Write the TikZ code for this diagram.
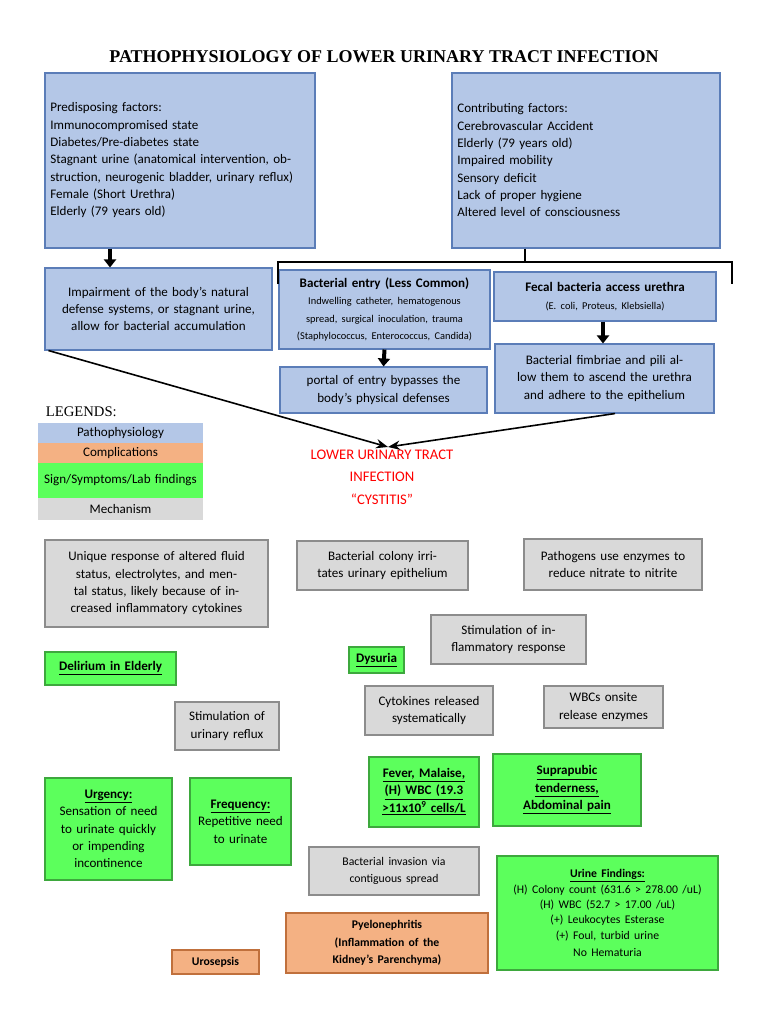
\documentclass[tikz,border=0pt]{standalone}
\usepackage{fontspec}
\setmainfont{Carlito}
\newfontfamily\titlefont{Liberation Serif}
\usetikzlibrary{arrows.meta}
\definecolor{pblue}{HTML}{B4C7E7}
\definecolor{pblueb}{HTML}{5B7DB8}
\definecolor{pgreen}{HTML}{5CFF5C}
\definecolor{pgreenb}{HTML}{3DA83D}
\definecolor{pgray}{HTML}{D9D9D9}
\definecolor{pgrayb}{HTML}{8C8C8C}
\definecolor{porange}{HTML}{F4B183}
\definecolor{porangeb}{HTML}{C0703C}
\newcommand{\bx}[7]{% name, style, x1,y1,x2,y2, text
\node[#2, minimum width={(#5-#3)*0.75pt}, minimum height={(#6-#4)*0.75pt}, text width={(#5-#3)*0.75pt-8pt}] (#1) at ({(#3+#5)/2},{(#4+#6)/2}) {#7};}
\begin{document}
\begin{tikzpicture}[x=0.75pt,y=-0.75pt,
 every node/.style={font=\fontsize{9.8}{13}\selectfont, inner sep=2pt},
 base/.style={draw, line width=0.8pt, align=center},
 blue/.style={base, fill=pblue, draw=pblueb},
 green/.style={base, fill=pgreen, draw=pgreenb},
 gray/.style={base, fill=pgray, draw=pgrayb},
 orange/.style={base, fill=porange, draw=porangeb},
 thick arrow/.style={line width=3pt, -{Triangle[length=6pt,width=9pt]}},
 thin arrow/.style={line width=1.2pt, -{Stealth[length=9pt,width=7pt]}},
 red text/.style={text=red, font=\fontsize{11}{14}\selectfont}]
\useasboundingbox (0,0) rectangle (768,1024);
\node[font=\titlefont\bfseries\fontsize{13.5}{16}\selectfont] (title) at (384,57) {PATHOPHYSIOLOGY OF LOWER URINARY TRACT INFECTION};
\bx{pre}{blue, align=left, anchor=center}{45}{73}{315}{248}{Predisposing factors:\\Immunocompromised state\\Diabetes/Pre-diabetes state\\Stagnant urine (anatomical intervention, obstruction, neurogenic bladder, urinary reflux)\\Female (Short Urethra)\\Elderly (79 years old)\\[14pt]}
\bx{con}{blue, align=left}{452}{73}{720}{248}{Contributing factors:\\Cerebrovascular Accident\\Elderly (79 years old)\\Impaired mobility\\Sensory deficit\\Lack of proper hygiene\\Altered level of consciousness\\[50pt]}
\bx{imp}{blue}{45}{268}{272}{350}{Impairment of the body's natural defense systems, or stagnant urine, allow for bacterial accumulation\\[14pt]}
\bx{bent}{blue}{279}{270}{490}{349}{\textbf{Bacterial entry (Less Common)}\\{\fontsize{7.8}{8.5}\selectfont Indwelling catheter, hematogenous spread, surgical inoculation, trauma (Staphylococcus, Enterococcus, Candida)}}
\bx{fec}{blue}{494}{272}{716}{321}{\textbf{Fecal bacteria access urethra}\\{\fontsize{7.8}{10}\selectfont (E. coli, Proteus, Klebsiella)}}
\bx{por}{blue}{280}{367}{487}{413}{portal of entry bypasses the body's physical defenses}
\bx{fim}{blue}{495}{344}{714}{413}{Bacterial fimbriae and pili allow them to ascend the urethra and adhere to the epithelium}
\node[font=\titlefont\fontsize{11}{13}\selectfont, anchor=west] (leg) at (43,412) {LEGENDS:};
\bx{l1}{fill=pblue, align=center}{38}{423}{203}{443}{Pathophysiology}
\bx{l2}{fill=porange, align=center}{38}{443}{203}{463}{Complications}
\bx{l3}{fill=pgreen, align=center}{38}{463}{203}{498}{Sign/Symptoms/Lab findings}
\bx{l4}{fill=pgray, align=center}{38}{498}{203}{520}{Mechanism}
\node[red text, align=center] (luti) at (382,477) {LOWER URINARY TRACT\\[3pt]INFECTION\\[3pt]``CYSTITIS''};
\bx{uni}{gray}{45}{540}{268}{627}{Unique response of altered fluid status, electrolytes, and mental status, likely because of increased inflammatory cytokines}
\bx{col}{gray}{297}{541}{468}{590}{Bacterial colony irritates urinary epithelium}
\bx{pat}{gray}{524}{539}{702}{590}{Pathogens use enzymes to reduce nitrate to nitrite}
\bx{sti}{gray}{431}{615}{586}{664}{Stimulation of inflammatory response}
\bx{del}{green}{45}{652}{176}{685}{\textbf{\underline{Delirium in Elderly}}}
\bx{dys}{green}{349}{647}{404}{673}{\textbf{\underline{Dysuria}}}
\bx{cyt}{gray}{365}{686}{493}{735}{Cytokines released systematically}
\bx{wbc}{gray}{544}{686}{663}{728}{WBCs onsite release enzymes}
\bx{sur}{gray}{175}{702}{279}{750}{Stimulation of urinary reflux}
\bx{urg}{green}{45}{778}{172}{880}{\textbf{\underline{Urgency:}}\\Sensation of need to urinate quickly or impending incontinence}
\bx{fre}{green}{190}{778}{291}{865}{\textbf{\underline{Frequency:}}\\Repetitive need to urinate}
\bx{fev}{green}{369}{757}{479}{827}{\textbf{\underline{Fever, Malaise,}}\\\textbf{\underline{(H) WBC (19.3}}\\\textbf{\underline{>11x10\textsuperscript{9} cells/L}}}
\bx{sup}{green}{493}{754}{641}{826}{\textbf{\underline{Suprapubic}}\\\textbf{\underline{tenderness,}}\\\textbf{\underline{Abdominal pain}}}
\bx{inv}{gray}{309}{847}{479}{895}{{\fontsize{8.8}{12}\selectfont Bacterial invasion via contiguous spread}}
\bx{uri}{green}{497}{856}{718}{970}{{\fontsize{8.8}{11.5}\selectfont \textbf{\underline{Urine Findings:}}\\(H) Colony count (631.6 > 278.00 /uL)\\(H) WBC (52.7 > 17.00 /uL)\\(+) Leukocytes Esterase\\(+) Foul, turbid urine\\No Hematuria}}
\bx{pye}{orange}{286}{913}{488}{973}{{\fontsize{8.8}{12}\selectfont\bfseries Pyelonephritis\\(Inflammation of the Kidney's Parenchyma)}}
\bx{uro}{orange}{172}{950}{259}{974}{{\fontsize{8.8}{12}\selectfont\bfseries Urosepsis}}
% connectors
\draw[thick arrow] (pre.south -| 110,0) -- (imp.north -| 110,0);
\draw[thick arrow] (bent.south) -- (por.north);
\draw[thick arrow] (fec.south -| 603,0) -- (fim.north -| 603,0);
\coordinate (bl) at (278,284);
\coordinate (br) at (732,284);
\draw[line width=1.6pt] (bl) -- (278,262) -- (732,262) -- (br);
\draw[line width=1.6pt] (con.south -| 525,0) -- (525,262);
\coordinate (target) at (388,447);
\draw[thin arrow] (imp.south west) ++(4,0) -- (target);
\draw[thin arrow] (fim.south -| 615,0) -- (target);
\end{tikzpicture}
\end{document}
